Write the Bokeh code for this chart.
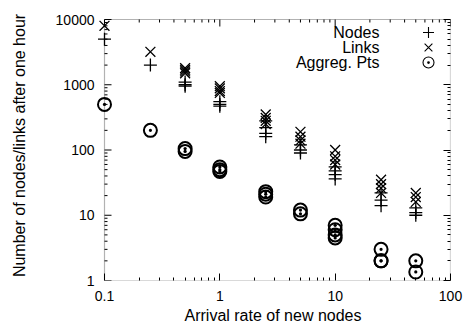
import math
from bokeh.plotting import figure
from bokeh.models import LogAxis, FixedTicker, Label, CustomJSTickFormatter, BoxAnnotation
from bokeh.embed import file_html
from bokeh.resources import INLINE

# Data (arrival rate of new nodes vs counts after one hour)
nodes_x = [0.1, 0.25, 0.5, 0.5, 0.5, 1, 1, 1, 2.5, 2.5, 2.5, 2.5, 5, 5, 5,
           10, 10, 10, 10, 25, 25, 25, 50, 50, 50]
nodes_y = [5000, 2000, 1100, 1000, 950, 550, 500, 470, 280, 220, 180, 160, 120, 100, 90,
           55, 48, 42, 36, 22, 17, 14, 13, 11, 10]

links_x = [0.1, 0.25, 0.5, 0.5, 0.5, 0.5, 1, 1, 1, 1, 2.5, 2.5, 2.5, 2.5, 5, 5, 5, 5,
           10, 10, 10, 10, 25, 25, 25, 25, 50, 50, 50]
links_y = [8000, 3200, 1800, 1700, 1600, 1500, 950, 880, 800, 750, 350, 310, 280, 250,
           190, 160, 140, 125, 100, 80, 70, 60, 35, 30, 26, 22, 22, 19, 16]

aggreg_x = [0.1, 0.25, 0.5, 0.5, 1, 1, 1, 2.5, 2.5, 2.5, 5, 5, 10, 10, 10, 10,
            25, 25, 25, 50, 50]
aggreg_y = [500, 200, 105, 95, 55, 50, 47, 23, 21, 19, 12, 10.5, 7, 6, 5, 4.5,
            3, 2, 2, 2, 1.35]

x_major = [0.1, 1, 10, 100]
y_major = [1, 10, 100, 1000, 10000]
series_labels = ["Nodes", "Links", "Aggreg. Pts"]

FONT = "Liberation Sans"
TICK_FS = "14px"
LABEL_FS = "16px"

W, H = 474, 331
AXL, BR, BT, BB = 104, 24, 19, 51      # box edges in pixels
PADL, PADT = 9, 9                       # extra frame room so edge markers are not cut
BL = AXL - PADL
BTF = BT - PADT
BOX_W, BOX_H = W - AXL - BR, H - BT - BB
MAJ, MIN = 7, 3                         # tick lengths, px

x_minor = [k * d for d in x_major[:-1] for k in range(2, 10)]
y_minor = [k * d for d in y_major[:-1] for k in range(2, 10)]

X0, X1 = x_major[0], x_major[-1]
Y0, Y1 = y_major[0], y_major[-1]
xdec = math.log10(X1 / X0) / BOX_W      # decades per pixel
ydec = math.log10(Y1 / Y0) / BOX_H
X0f = X0 / 10 ** (PADL * xdec)
Y1f = Y1 * 10 ** (PADT * ydec)

p = figure(width=W, height=H, x_axis_type="log", y_axis_type="log",
           x_range=(X0f, X1), y_range=(Y0, Y1f),
           output_backend="svg", toolbar_location=None,
           min_border_left=BL, min_border_right=BR,
           min_border_top=BTF, min_border_bottom=BB)
p.grid.visible = False
p.outline_line_color = None
p.background_fill_color = "white"
p.border_fill_color = "white"

fmt = CustomJSTickFormatter(code="return tick.toString();")
blank = CustomJSTickFormatter(code="return '';")

for ax, maj, mn in ((p.xaxis[0], x_major, x_minor), (p.yaxis[0], y_major, y_minor)):
    ax.ticker = FixedTicker(ticks=maj, minor_ticks=mn)
    ax.formatter = fmt
    ax.major_tick_in = MAJ
    ax.major_tick_out = 0
    ax.minor_tick_in = MIN
    ax.minor_tick_out = 0
    ax.major_label_text_font = FONT
    ax.major_label_text_font_size = TICK_FS
    ax.major_label_text_color = "black"
    ax.axis_label_text_font = FONT
    ax.axis_label_text_font_size = LABEL_FS
    ax.axis_label_text_font_style = "normal"
    ax.axis_label_text_color = "black"
    ax.axis_line_color = None

p.xaxis[0].axis_label = "Arrival rate of new nodes"
p.yaxis[0].axis_label = "Number of nodes/links after one hour"
p.xaxis[0].major_label_standoff = 10
p.xaxis[0].axis_label_standoff = 3
# left axis sits at the frame edge (PADL px left of the box): ticks drawn separately
p.yaxis[0].major_tick_in = 0
p.yaxis[0].minor_tick_in = 0
p.yaxis[0].major_tick_line_color = None
p.yaxis[0].minor_tick_line_color = None
p.yaxis[0].major_label_standoff = 10 - PADL
p.yaxis[0].axis_label_standoff = 25

right = LogAxis(ticker=FixedTicker(ticks=y_major, minor_ticks=y_minor), formatter=blank,
                major_tick_in=MAJ, major_tick_out=0, minor_tick_in=MIN, minor_tick_out=0,
                major_label_standoff=0, axis_line_color=None)
p.add_layout(right, "right")

# plot box
p.add_layout(BoxAnnotation(left=X0, right=X1, bottom=Y0, top=Y1, fill_color=None,
                           fill_alpha=0, line_color="black", line_width=1.2))

# inward ticks on the left and top edges of the box
for ticks, ln in ((y_major, MAJ), (y_minor, MIN)):
    p.segment(x0=[X0] * len(ticks), y0=ticks, x1=[X0 * 10 ** (ln * xdec)] * len(ticks),
              y1=ticks, line_color="black", line_width=1)
for ticks, ln in ((x_major, MAJ), (x_minor, MIN)):
    p.segment(x0=ticks, y0=[Y1] * len(ticks), x1=ticks,
              y1=[Y1 / 10 ** (ln * ydec)] * len(ticks), line_color="black", line_width=1)

p.scatter(nodes_x, nodes_y, marker="cross", size=13, line_color="black", line_width=1.3)
p.scatter(links_x, links_y, marker="x", size=14, line_color="black", line_width=1.3)
p.scatter(aggreg_x, aggreg_y, marker="circle_dot", size=13, line_color="black",
          fill_color=None, line_width=2)


# Legend (gnuplot style: right-aligned text, key symbol to the right)
def fx(px):
    return X0 * 10 ** ((px - AXL) * xdec)


def fy(py):
    return Y0 * 10 ** ((BT + BOX_H - py) * ydec)


rows_py = [32, 47, 62]
text_px, key_px = 379, 428
markers = ["cross", "x", "circle_dot"]
for lab, py, mk in zip(series_labels, rows_py, markers):
    p.add_layout(Label(x=fx(text_px), y=fy(py), text=lab, text_align="right",
                       text_baseline="middle", text_font=FONT,
                       text_font_size=LABEL_FS, text_color="black"))
    p.scatter([fx(key_px)], [fy(py)], marker=mk, size=11, line_color="black",
              fill_color=None, line_width=1.1)

open("out.html", "w").write(file_html(p, INLINE))
